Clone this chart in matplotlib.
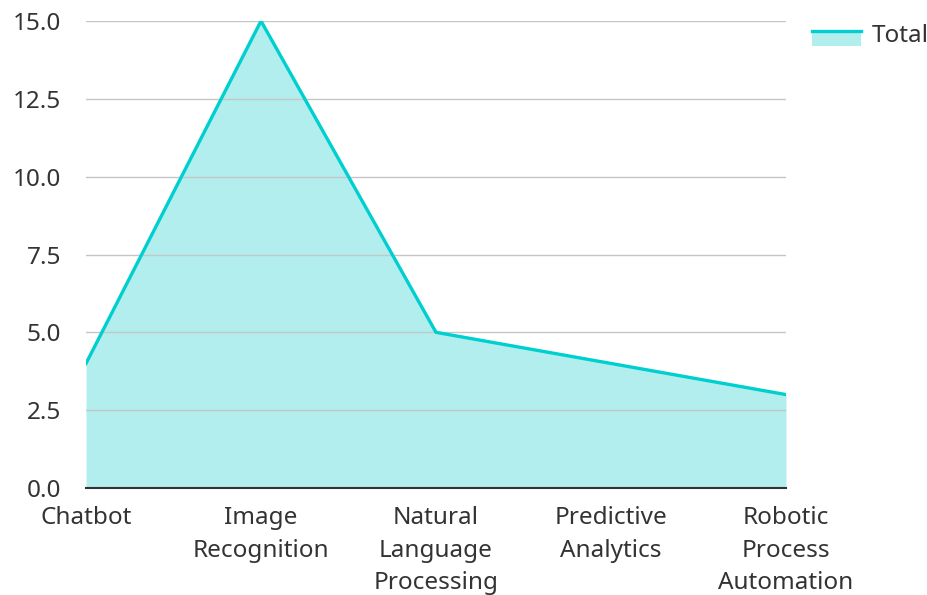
import matplotlib
matplotlib.use("Agg")
import matplotlib.pyplot as plt
from matplotlib.legend_handler import HandlerBase
from matplotlib.lines import Line2D
from matplotlib.patches import Rectangle

plt.rcParams["font.family"] = ["Noto Sans", "DejaVu Sans"]

LINE_COLOR = "#00cfcf"
FILL_COLOR = "#b2eeee"
TEXT_COLOR = "#333333"
GRID_COLOR = "#c6c6c6"
FONT_SIZE = 17.5

categories = [
    "Chatbot",
    "Image\nRecognition",
    "Natural\nLanguage\nProcessing",
    "Predictive\nAnalytics",
    "Robotic\nProcess\nAutomation",
]
totals = [4, 15, 5, 4, 3]
y_ticks = [0.0, 2.5, 5.0, 7.5, 10.0, 12.5, 15.0]


class AreaHandler(HandlerBase):
    # filled patch with the line on its upper edge, sitting a bit low
    def create_artists(self, legend, orig_handle, xdescent, ydescent,
                       width, height, fontsize, trans):
        x0, y0 = -xdescent, -ydescent - 3.5
        rect = Rectangle((x0, y0), width, height, facecolor=FILL_COLOR,
                         edgecolor="none", transform=trans)
        line = Line2D([x0, x0 + width], [y0 + height, y0 + height],
                      color=LINE_COLOR, linewidth=2.4, transform=trans)
        return [rect, line]


fig = plt.figure(figsize=(9.28, 5.95), dpi=100)
ax = fig.add_axes([86 / 928, 1 - 488 / 595, 700 / 928, 467 / 595])

x = list(range(len(categories)))
ax.fill_between(x, 0, totals, color=FILL_COLOR, linewidth=0, zorder=1)
ax.plot(x, totals, color=LINE_COLOR, linewidth=2.4, zorder=3)

ax.set_xlim(0, len(categories) - 1)
ax.set_ylim(0, 15)
ax.set_xticks(x)
ax.set_xticklabels(categories, linespacing=1.47)
ax.set_yticks(y_ticks)
ax.set_yticklabels([f"{v:.1f}" for v in y_ticks])
ax.tick_params(axis="x", length=0, pad=13, labelsize=FONT_SIZE, colors=TEXT_COLOR)
ax.tick_params(axis="y", length=0, pad=18, labelsize=FONT_SIZE, colors=TEXT_COLOR)

ax.grid(axis="y", color=GRID_COLOR, linewidth=1, zorder=2)
ax.set_axisbelow(False)
for side in ["top", "right", "left"]:
    ax.spines[side].set_visible(False)
ax.spines["bottom"].set_color(TEXT_COLOR)
ax.spines["bottom"].set_linewidth(1.5)
ax.spines["bottom"].set_zorder(4)

handle = Rectangle((0, 0), 1, 1)
fig.legend(
    [handle], ["Total"],
    handler_map={Rectangle: AreaHandler()},
    loc="upper left",
    bbox_to_anchor=(812 / 928, 1 - 24 / 595),
    borderaxespad=0,
    borderpad=0,
    frameon=False,
    fontsize=FONT_SIZE,
    labelcolor=TEXT_COLOR,
    handlelength=2.0,
    handleheight=0.58,
    handletextpad=0.45,
)

fig.savefig("out.png", dpi=100)
